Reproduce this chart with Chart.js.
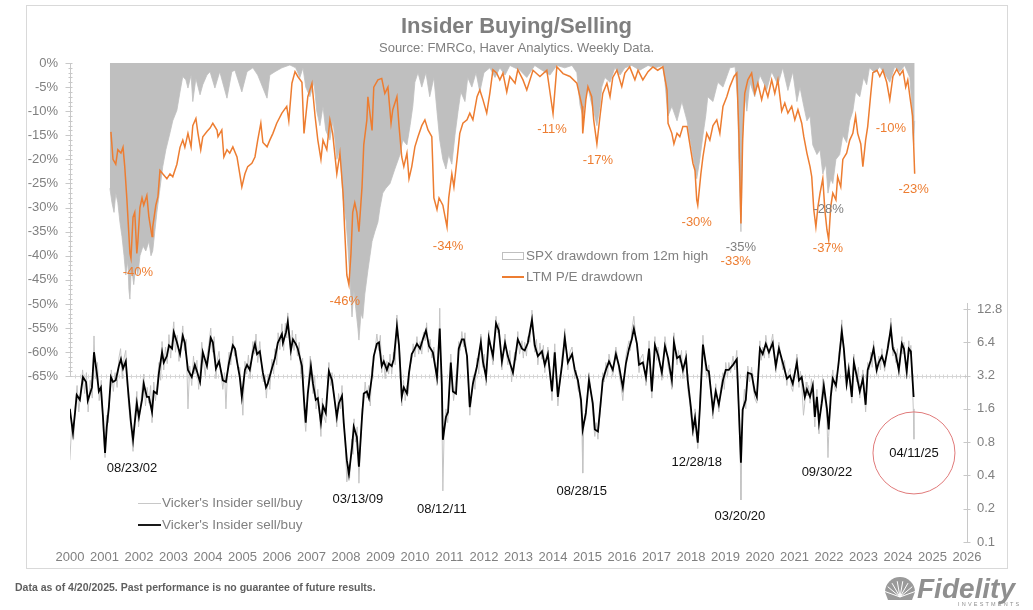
<!DOCTYPE html>
<html>
<head>
<meta charset="utf-8">
<title>Insider Buying/Selling</title>
<script src="https://cdn.jsdelivr.net/npm/chart.js@4.4.1/dist/chart.umd.min.js"></script>
<style>
  html, body { margin: 0; background: #fff; }
  #wrap { width: 1033px; height: 610px; }
</style>
</head>
<body>
<div id="wrap"><canvas id="insiderChart" width="1033" height="610"></canvas></div>
<script>
// x tick labels and axis ticks
const yearLabels = [2000, 2001, 2002, 2003, 2004, 2005, 2006, 2007, 2008, 2009, 2010, 2011, 2012, 2013,
  2014, 2015, 2016, 2017, 2018, 2019, 2020, 2021, 2022, 2023, 2024, 2025, 2026];
const leftTicks = [0, -5, -10, -15, -20, -25, -30, -35, -40, -45, -50, -55, -60, -65];
const rightTicks = [0.1, 0.2, 0.4, 0.8, 1.6, 3.2, 6.4, 12.8];

// SPX drawdown from 12m high (%)
const spxDates = [
  2002.00, 2002.06, 2002.12, 2002.17, 2002.23, 2002.29, 2002.35, 2002.41, 2002.46, 2002.52,
  2002.55, 2002.58, 2002.61, 2002.64, 2002.69, 2002.75, 2002.81, 2002.87, 2002.96, 2003.04,
  2003.13, 2003.19, 2003.24, 2003.30, 2003.36, 2003.45, 2003.53, 2003.62, 2003.74, 2003.82,
  2003.94, 2004.03, 2004.11, 2004.20, 2004.26, 2004.35, 2004.40, 2004.49, 2004.61, 2004.69,
  2004.81, 2004.90, 2005.04, 2005.18, 2005.39, 2005.53, 2005.62, 2005.82, 2005.97, 2006.14,
  2006.28, 2006.55, 2006.63, 2006.78, 2006.98, 2007.21, 2007.38, 2007.50, 2007.59, 2007.67,
  2007.79, 2007.91, 2007.99, 2008.08, 2008.17, 2008.25, 2008.37, 2008.46, 2008.57, 2008.66,
  2008.75, 2008.84, 2008.89, 2008.95, 2009.01, 2009.06, 2009.12, 2009.18, 2009.21, 2009.27,
  2009.32, 2009.38, 2009.47, 2009.53, 2009.59, 2009.67, 2009.76, 2009.82, 2009.90, 2009.99,
  2010.11, 2010.25, 2010.40, 2010.48, 2010.60, 2010.69, 2010.77, 2010.83, 2010.92, 2011.03,
  2011.15, 2011.26, 2011.38, 2011.47, 2011.55, 2011.64, 2011.73, 2011.81, 2011.90, 2011.99,
  2012.08, 2012.16, 2012.28, 2012.36, 2012.48, 2012.60, 2012.71, 2012.83, 2013.00, 2013.15,
  2013.29, 2013.44, 2013.58, 2013.87, 2014.07, 2014.30, 2014.51, 2014.74, 2014.94, 2015.17,
  2015.38, 2015.52, 2015.61, 2015.69, 2015.78, 2015.84, 2015.93, 2016.01, 2016.10, 2016.19,
  2016.24, 2016.33, 2016.48, 2016.62, 2016.77, 2016.91, 2017.11, 2017.34, 2017.58, 2017.78,
  2018.01, 2018.07, 2018.16, 2018.27, 2018.42, 2018.56, 2018.71, 2018.85, 2018.94, 2018.99,
  2019.08, 2019.17, 2019.25, 2019.31, 2019.46, 2019.60, 2019.75, 2019.95, 2020.10, 2020.18,
  2020.21, 2020.27, 2020.29, 2020.32, 2020.38, 2020.44, 2020.53, 2020.67, 2020.82, 2021.02,
  2021.16, 2021.34, 2021.48, 2021.63, 2021.77, 2021.89, 2021.98, 2022.09, 2022.18, 2022.27,
  2022.35, 2022.47, 2022.56, 2022.64, 2022.73, 2022.79, 2022.87, 2022.93, 2023.02, 2023.13,
  2023.22, 2023.33, 2023.42, 2023.51, 2023.59, 2023.71, 2023.82, 2023.91, 2023.99, 2024.15,
  2024.29, 2024.43, 2024.58, 2024.72, 2024.87, 2025.01, 2025.16, 2025.21, 2025.24, 2025.27,
  2025.30];
const spxDrawdown = [
  -26, -29, -31, -27, -29, -33, -36, -40, -44, -41,
  -47, -49, -44, -43, -46, -42, -44, -40, -38, -39,
  -37, -40, -39, -35, -31, -26, -21.5, -18, -14.5, -12,
  -9.8, -6, -2.8, -3.5, -5.2, -2.5, -8, -3.2, -6.6, -4.5,
  -2.5, -1.8, -5.2, -1.8, -7.3, -1.8, -1.5, -6, -1.8, -1,
  -2.5, -7.3, -2.5, -1.8, -1, -0.4, -1, -3, -1, -5,
  -7, -4, -10, -13, -9, -14, -16, -12, -20, -18,
  -28, -33, -38, -45, -52.7, -47, -51, -55, -57.5, -52,
  -53, -48, -43, -40, -37, -35, -33, -30, -27, -26,
  -25, -22, -19, -16, -17, -13, -9, -4, -2, -5,
  -2, -7, -3, -10, -16, -20, -22, -19, -21, -15,
  -10, -6, -8, -3, -5, -2, -6, -2, -1, -3,
  -1, -2.5, -0.5, -1.5, -3, -0.5, -1.5, -2.5, -0.5, -1,
  -0.5, -2, -8.7, -11, -7, -5, -8, -10, -13, -9,
  -5, -3, -4, -1, -2.5, -1, -0.5, -1.5, -0.5, -1,
  -0.5, -4, -11, -9, -12, -8, -12, -18, -22, -24,
  -20, -15, -11, -7, -8, -4, -5, -1, -0.8, -8,
  -20, -35, -28, -15, -6, -10, -4, -7, -2.5, -5.5,
  -1.8, -4.5, -1, -5.7, -1.8, -8, -5, -9, -12, -11,
  -17, -19, -18, -23, -21, -27, -24, -25, -20, -19,
  -15, -16.5, -12, -10, -6, -7, -3, -4.5, -1, -2,
  -0.8, -2.2, -4, -0.8, -1.8, -0.5, -3, -8, -14, -17,
  -12];

// LTM P/E drawdown (%), orange line
const peDates = [
  2002.03, 2002.09, 2002.17, 2002.23, 2002.32, 2002.38, 2002.43, 2002.49, 2002.58, 2002.61,
  2002.67, 2002.72, 2002.78, 2002.81, 2002.87, 2002.93, 2002.98, 2003.07, 2003.13, 2003.22,
  2003.24, 2003.33, 2003.39, 2003.45, 2003.53, 2003.65, 2003.74, 2003.82, 2003.94, 2004.03,
  2004.11, 2004.17, 2004.26, 2004.35, 2004.40, 2004.49, 2004.55, 2004.63, 2004.69, 2004.81,
  2004.90, 2004.98, 2005.10, 2005.13, 2005.24, 2005.30, 2005.39, 2005.47, 2005.56, 2005.68,
  2005.76, 2005.82, 2005.91, 2005.99, 2006.11, 2006.20, 2006.28, 2006.37, 2006.43, 2006.55,
  2006.63, 2006.72, 2006.83, 2006.98, 2007.12, 2007.18, 2007.27, 2007.36, 2007.44, 2007.56,
  2007.62, 2007.73, 2007.85, 2007.94, 2008.02, 2008.11, 2008.17, 2008.28, 2008.37, 2008.45,
  2008.57, 2008.66, 2008.75, 2008.80, 2008.86, 2008.92, 2008.98, 2009.03, 2009.09, 2009.15,
  2009.21, 2009.30, 2009.35, 2009.44, 2009.47, 2009.59, 2009.64, 2009.76, 2009.87, 2009.96,
  2010.05, 2010.14, 2010.19, 2010.31, 2010.37, 2010.45, 2010.51, 2010.60, 2010.66, 2010.74,
  2010.83, 2010.92, 2011.03, 2011.12, 2011.21, 2011.32, 2011.38, 2011.47, 2011.53, 2011.64,
  2011.76, 2011.81, 2011.90, 2011.96, 2012.05, 2012.13, 2012.22, 2012.34, 2012.42, 2012.51,
  2012.63, 2012.71, 2012.80, 2012.91, 2013.00, 2013.09, 2013.20, 2013.29, 2013.38, 2013.49,
  2013.58, 2013.73, 2013.81, 2013.96, 2014.07, 2014.25, 2014.45, 2014.65, 2014.83, 2014.94,
  2015.12, 2015.32, 2015.52, 2015.67, 2015.69, 2015.78, 2015.84, 2015.95, 2016.01, 2016.10,
  2016.19, 2016.27, 2016.39, 2016.48, 2016.56, 2016.68, 2016.82, 2016.91, 2017.05, 2017.20,
  2017.29, 2017.43, 2017.58, 2017.72, 2017.86, 2018.01, 2018.13, 2018.16, 2018.27, 2018.33,
  2018.42, 2018.50, 2018.59, 2018.71, 2018.79, 2018.88, 2018.94, 2018.99, 2019.02, 2019.11,
  2019.17, 2019.28, 2019.37, 2019.46, 2019.57, 2019.66, 2019.75, 2019.86, 2019.95, 2020.07,
  2020.15, 2020.21, 2020.27, 2020.32, 2020.38, 2020.47, 2020.58, 2020.67, 2020.76, 2020.87,
  2020.96, 2021.05, 2021.16, 2021.25, 2021.34, 2021.45, 2021.54, 2021.63, 2021.74, 2021.83,
  2021.92, 2022.03, 2022.09, 2022.18, 2022.27, 2022.32, 2022.38, 2022.44, 2022.50, 2022.56,
  2022.64, 2022.70, 2022.76, 2022.81, 2022.87, 2022.93, 2023.02, 2023.07, 2023.16, 2023.22,
  2023.33, 2023.42, 2023.51, 2023.59, 2023.65, 2023.74, 2023.80, 2023.88, 2023.94, 2024.03,
  2024.09, 2024.21, 2024.29, 2024.38, 2024.49, 2024.58, 2024.67, 2024.78, 2024.87, 2024.96,
  2025.04, 2025.10, 2025.16, 2025.24, 2025.27, 2025.30];
const peDrawdown = [
  -14.3, -20, -21, -18, -18.7, -17.5, -21.5, -28, -39.5, -40.5,
  -32, -31, -39.5, -37, -30, -28, -29.5, -27.5, -32, -36,
  -34, -29.5, -27.8, -22.3, -23, -24, -23, -23.6, -21, -17.5,
  -16, -17.5, -14.6, -17.4, -13, -11.5, -14.6, -18, -15.3, -14.2,
  -13.5, -12.5, -13.9, -15.3, -13.9, -19.5, -18, -18.7, -17.4, -19.5,
  -23, -25.7, -23, -21.5, -20.8, -19.5, -16, -12.5, -16.5, -17.4,
  -16, -14.6, -12.5, -10.4, -9, -12, -4.2, -1.8, -2.8, -4,
  -14.6, -7, -4.2, -11, -16, -20, -16, -18, -11.8, -14.6,
  -23, -18.7, -27, -35, -44, -46, -39.5, -31, -29, -31,
  -35, -25.7, -17, -11.8, -7, -14, -5, -3.5, -3.2, -6.3,
  -5, -12.5, -9.7, -7, -13, -19.5, -21.5, -18.7, -24, -21.5,
  -17.4, -15.3, -13, -11.8, -13.9, -15.3, -28, -30.4, -28, -29.5,
  -34, -28, -23, -25.7, -20, -14.6, -12.5, -11.8, -10.4, -11.8,
  -7, -5.6, -7.6, -10.4, -6.3, -1.4, -2.1, -3.5, -2.1, -6,
  -2.8, -4.2, -1.4, -3.5, -5.6, -1.5, -2.8, -1.5, -10.5, -0.8,
  -2.2, -2.8, -4.2, -9, -14.6, -7.6, -4.9, -7, -12, -16.8,
  -11, -6.3, -4.2, -7, -3, -1.5, -4.9, -2.1, -0.8, -3.5,
  -1.5, -3.5, -1.8, -0.8, -1.5, -0.8, -5.6, -12.5, -14.6, -16.8,
  -14.6, -15.3, -13.2, -13.2, -16.8, -20.8, -22.3, -28.4, -29.5, -23,
  -19.5, -14.6, -16, -13, -11.8, -14.6, -9, -7, -4.9, -2.8,
  -2.1, -14.6, -33.3, -16, -6.3, -3.5, -2.1, -6.3, -4.2, -7.6,
  -4.9, -7, -3.5, -6.3, -3.5, -10, -8.3, -10.4, -9, -11.8,
  -9.7, -12.5, -15.3, -18.7, -21.5, -23.6, -30.5, -34, -29.8, -27,
  -24, -30.5, -34.6, -36.7, -29.8, -27, -28.4, -23.6, -25.7, -20,
  -18.7, -16, -14.6, -11, -14.6, -16.8, -21.5, -16, -13.2, -6.3,
  -2, -1.5, -2.8, -1.5, -4, -7.6, -2.8, -1.3, -2.5, -1.5,
  -5, -3.5, -6.9, -11, -16.8, -23];

// Vicker's insider sell/buy, weekly (thin grey line, log scale)
const vickersRawDates = [
  2000.84, 2000.90, 2000.95, 2001.00, 2001.05, 2001.10, 2001.16, 2001.21, 2001.27, 2001.32,
  2001.37, 2001.43, 2001.49, 2001.54, 2001.58, 2001.64, 2001.69, 2001.75, 2001.80, 2001.86,
  2001.90, 2001.95, 2002.00, 2002.04, 2002.10, 2002.15, 2002.21, 2002.26, 2002.31, 2002.36,
  2002.41, 2002.46, 2002.52, 2002.57, 2002.62, 2002.67, 2002.73, 2002.78, 2002.83, 2002.88,
  2002.93, 2002.98, 2003.03, 2003.08, 2003.13, 2003.18, 2003.22, 2003.27, 2003.32, 2003.37,
  2003.42, 2003.47, 2003.51, 2003.56, 2003.61, 2003.66, 2003.71, 2003.76, 2003.80, 2003.85,
  2003.90, 2003.95, 2004.00, 2004.05, 2004.11, 2004.16, 2004.21, 2004.26, 2004.31, 2004.37,
  2004.42, 2004.46, 2004.52, 2004.57, 2004.61, 2004.66, 2004.71, 2004.76, 2004.81, 2004.86,
  2004.92, 2004.97, 2005.02, 2005.07, 2005.11, 2005.16, 2005.21, 2005.27, 2005.32, 2005.36,
  2005.41, 2005.45, 2005.50, 2005.56, 2005.61, 2005.66, 2005.71, 2005.76, 2005.80, 2005.85,
  2005.91, 2005.96, 2006.01, 2006.06, 2006.10, 2006.14, 2006.19, 2006.23, 2006.28, 2006.34,
  2006.39, 2006.44, 2006.49, 2006.53, 2006.58, 2006.63, 2006.69, 2006.74, 2006.78, 2006.83,
  2006.87, 2006.92, 2006.98, 2007.03, 2007.08, 2007.12, 2007.15, 2007.20, 2007.24, 2007.28,
  2007.33, 2007.38, 2007.43, 2007.48, 2007.53, 2007.58, 2007.62, 2007.67, 2007.71, 2007.75,
  2007.80, 2007.84, 2007.88, 2007.93, 2007.97, 2008.02, 2008.06, 2008.11, 2008.15, 2008.19,
  2008.25, 2008.30, 2008.34, 2008.39, 2008.43, 2008.47, 2008.52, 2008.57, 2008.62, 2008.67,
  2008.72, 2008.76, 2008.81, 2008.86, 2008.90, 2008.94, 2009.00, 2009.04, 2009.07, 2009.11,
  2009.16, 2009.21, 2009.25, 2009.30, 2009.35, 2009.39, 2009.44, 2009.49, 2009.54, 2009.58,
  2009.63, 2009.68, 2009.73, 2009.78, 2009.83, 2009.87, 2009.92, 2009.97, 2010.02, 2010.07,
  2010.11, 2010.16, 2010.21, 2010.26, 2010.31, 2010.36, 2010.41, 2010.45, 2010.50, 2010.55,
  2010.60, 2010.64, 2010.69, 2010.74, 2010.78, 2010.83, 2010.89, 2010.94, 2010.98, 2011.03,
  2011.08, 2011.13, 2011.17, 2011.22, 2011.27, 2011.32, 2011.38, 2011.43, 2011.47, 2011.52,
  2011.55, 2011.58, 2011.61, 2011.64, 2011.68, 2011.73, 2011.78, 2011.82, 2011.87, 2011.91,
  2011.95, 2012.00, 2012.05, 2012.10, 2012.14, 2012.19, 2012.24, 2012.28, 2012.34, 2012.38,
  2012.42, 2012.47, 2012.52, 2012.57, 2012.63, 2012.68, 2012.74, 2012.79, 2012.84, 2012.89,
  2012.93, 2012.97, 2013.03, 2013.09, 2013.13, 2013.18, 2013.22, 2013.26, 2013.31, 2013.35,
  2013.40, 2013.44, 2013.48, 2013.52, 2013.58, 2013.63, 2013.67, 2013.72, 2013.76, 2013.81,
  2013.86, 2013.93, 2013.97, 2014.01, 2014.06, 2014.10, 2014.16, 2014.22, 2014.26, 2014.30,
  2014.35, 2014.39, 2014.45, 2014.51, 2014.55, 2014.59, 2014.64, 2014.68, 2014.73, 2014.80,
  2014.84, 2014.88, 2014.92, 2014.97, 2015.03, 2015.09, 2015.13, 2015.17, 2015.22, 2015.26,
  2015.32, 2015.38, 2015.42, 2015.46, 2015.50, 2015.55, 2015.60, 2015.64, 2015.67, 2015.69,
  2015.72, 2015.78, 2015.82, 2015.87, 2015.92, 2015.98, 2016.01, 2016.04, 2016.08, 2016.13,
  2016.16, 2016.19, 2016.23, 2016.27, 2016.31, 2016.36, 2016.41, 2016.45, 2016.50, 2016.56,
  2016.60, 2016.65, 2016.70, 2016.74, 2016.80, 2016.85, 2016.90, 2016.94, 2016.99, 2017.03,
  2017.07, 2017.11, 2017.17, 2017.22, 2017.26, 2017.32, 2017.37, 2017.43, 2017.47, 2017.52,
  2017.57, 2017.61, 2017.65, 2017.69, 2017.74, 2017.78, 2017.83, 2017.87, 2017.92, 2017.98,
  2018.03, 2018.07, 2018.12, 2018.16, 2018.22, 2018.27, 2018.31, 2018.33, 2018.38, 2018.42,
  2018.46, 2018.50, 2018.55, 2018.59, 2018.64, 2018.68, 2018.73, 2018.78, 2018.82, 2018.88,
  2018.92, 2018.94, 2018.98, 2019.02, 2019.05, 2019.08, 2019.13, 2019.17, 2019.22, 2019.28,
  2019.34, 2019.39, 2019.46, 2019.50, 2019.54, 2019.59, 2019.63, 2019.68, 2019.75, 2019.79,
  2019.83, 2019.88, 2019.92, 2019.97, 2020.04, 2020.09, 2020.15, 2020.18, 2020.21, 2020.25,
  2020.27, 2020.30, 2020.32, 2020.37, 2020.41, 2020.44, 2020.47, 2020.52, 2020.58, 2020.62,
  2020.67, 2020.73, 2020.77, 2020.82, 2020.86, 2020.90, 2020.95, 2020.99, 2021.04, 2021.08,
  2021.13, 2021.19, 2021.23, 2021.28, 2021.33, 2021.37, 2021.42, 2021.48, 2021.53, 2021.60,
  2021.64, 2021.69, 2021.73, 2021.77, 2021.82, 2021.89, 2021.92, 2021.95, 2021.99, 2022.03,
  2022.08, 2022.12, 2022.16, 2022.18, 2022.23, 2022.27, 2022.31, 2022.35, 2022.41, 2022.44,
  2022.47, 2022.53, 2022.57, 2022.61, 2022.64, 2022.67, 2022.72, 2022.76, 2022.79, 2022.81,
  2022.85, 2022.87, 2022.93, 2022.97, 2023.02, 2023.06, 2023.10, 2023.15, 2023.19, 2023.22,
  2023.25, 2023.30, 2023.33, 2023.39, 2023.43, 2023.48, 2023.54, 2023.58, 2023.62, 2023.67,
  2023.71, 2023.76, 2023.80, 2023.84, 2023.88, 2023.91, 2023.94, 2023.99, 2024.03, 2024.07,
  2024.11, 2024.15, 2024.20, 2024.26, 2024.31, 2024.35, 2024.39, 2024.43, 2024.48, 2024.52,
  2024.58, 2024.61, 2024.64, 2024.67, 2024.71, 2024.75, 2024.80, 2024.84, 2024.88, 2024.93,
  2024.96, 2024.99, 2025.03, 2025.07, 2025.10, 2025.13, 2025.16, 2025.19, 2025.22, 2025.24,
  2025.26, 2025.28];
const vickersRaw = [
  0.55, 1.2, 0.85, 1.8, 2.6, 1.5, 2.4, 3.6, 2.2, 3.4,
  1.5, 2.9, 2.0, 7.3, 3.0, 4.2, 1.9, 2.9, 1.1, 0.58,
  1.4, 1.2, 2.1, 3.6, 2.3, 3.4, 2.5, 4.6, 5.6, 3.0,
  4.6, 5.4, 2.1, 1.4, 1.0, 0.66, 1.5, 2.3, 1.1, 1.6,
  2.4, 3.3, 1.7, 2.5, 1.8, 2.6, 1.2, 2.8, 1.9, 2.7,
  4.2, 2.9, 6.5, 3.6, 5.8, 4.1, 7.5, 4.6, 6.8, 9.8,
  5.2, 7.4, 4.3, 5.8, 9.0, 5.4, 6.8, 1.6, 3.9, 2.6,
  4.8, 3.3, 4.4, 2.4, 3.3, 6.4, 4.4, 3.2, 4.8, 6.0,
  8.6, 5.2, 7.2, 3.0, 4.4, 5.3, 3.5, 2.4, 3.4, 1.6,
  3.8, 5.2, 4.0, 7.3, 4.8, 5.4, 3.6, 3.8, 2.6, 1.4,
  4.3, 3.3, 4.9, 3.0, 4.4, 6.5, 5.0, 7.6, 4.2, 6.5,
  4.0, 2.8, 3.2, 2.0, 3.3, 2.4, 4.5, 3.3, 5.6, 4.0,
  7.8, 5.5, 9.4, 5.4, 9.5, 7.0, 11.8, 6.8, 4.4, 8.2,
  5.4, 7.6, 4.8, 6.4, 3.3, 4.6, 1.5, 1.0, 1.6, 2.8,
  4.8, 3.2, 2.2, 3.2, 1.6, 2.4, 1.5, 0.9, 2.0, 1.4,
  1.2, 2.4, 4.2, 2.6, 3.4, 2.5, 1.7, 1.1, 2.2, 1.6,
  2.6, 1.4, 0.8, 0.35, 0.5, 0.38, 0.85, 0.62, 1.3, 0.8,
  1.1, 0.34, 0.7, 1.6, 1.8, 2.8, 2.0, 2.6, 1.7, 3.8,
  4.2, 5.6, 7.6, 5.4, 7.4, 3.4, 4.9, 3.0, 4.3, 3.3,
  5.0, 3.3, 5.2, 4.0, 11.3, 6.8, 4.4, 1.7, 2.9, 1.9,
  2.6, 2.2, 3.9, 4.4, 6.2, 4.7, 7.2, 5.0, 6.5, 5.0,
  7.9, 6.6, 9.6, 5.2, 6.8, 4.6, 5.8, 3.6, 2.6, 4.4,
  13.0, 4.0, 1.6, 0.29, 1.1, 1.6, 1.2, 2.0, 5.0, 2.9,
  1.9, 2.6, 3.8, 6.5, 5.4, 8.0, 5.8, 7.8, 4.2, 2.6,
  1.4, 2.0, 3.2, 2.4, 4.6, 3.3, 7.6, 3.8, 5.0, 2.6,
  4.4, 8.2, 5.6, 4.0, 6.2, 11.0, 7.8, 9.6, 5.6, 3.6,
  5.2, 7.6, 5.2, 4.0, 5.4, 2.8, 3.8, 5.2, 4.4, 8.0,
  5.0, 6.6, 4.6, 6.4, 4.8, 7.2, 6.4, 12.5, 7.2, 5.2,
  6.8, 4.0, 6.3, 4.5, 6.0, 3.4, 4.4, 5.8, 3.6, 1.9,
  3.6, 6.2, 3.3, 1.7, 2.8, 4.8, 5.8, 8.5, 5.2, 3.6,
  5.2, 5.8, 4.4, 3.0, 3.6, 2.4, 2.2, 1.6, 0.9, 0.42,
  1.2, 1.3, 2.0, 3.4, 2.4, 1.5, 1.1, 0.9, 1.2, 0.85,
  1.2, 1.4, 2.0, 3.4, 2.8, 4.2, 3.2, 5.0, 4.0, 3.2,
  4.4, 5.8, 4.6, 3.4, 2.6, 1.9, 3.0, 4.8, 5.8, 6.6,
  5.4, 8.2, 11.0, 7.4, 5.6, 3.4, 4.6, 5.0, 4.0, 2.6,
  4.2, 6.6, 4.0, 2.0, 4.2, 7.2, 4.4, 5.8, 4.2, 2.9,
  4.2, 7.2, 5.4, 3.9, 3.2, 2.4, 4.4, 7.8, 5.0, 4.0,
  5.4, 4.2, 5.4, 3.0, 4.0, 5.4, 2.4, 1.9, 1.4, 0.9,
  1.1, 1.6, 1.1, 0.7, 1.0, 1.9, 3.6, 7.4, 4.2, 3.1,
  4.0, 2.6, 1.3, 1.9, 2.7, 2.0, 1.5, 2.4, 3.4, 2.4,
  4.2, 3.1, 4.2, 3.4, 4.8, 3.6, 5.4, 3.0, 1.3, 0.6,
  0.24, 0.9, 1.4, 2.4, 1.6, 2.6, 3.9, 2.8, 3.8, 2.6,
  2.0, 1.8, 3.4, 6.6, 4.4, 5.8, 4.6, 7.4, 5.6, 4.6,
  6.0, 7.6, 5.0, 3.4, 4.6, 6.4, 4.8, 3.6, 4.4, 2.6,
  3.4, 3.7, 2.5, 2.3, 3.2, 5.0, 3.4, 2.5, 3.5, 2.7,
  1.4, 1.8, 2.8, 2.1, 2.6, 1.8, 3.0, 2.3, 1.1, 1.8,
  2.4, 0.95, 1.6, 2.1, 3.0, 2.2, 1.8, 1.3, 0.58, 0.9,
  1.6, 2.4, 3.6, 2.6, 2.3, 3.0, 5.0, 6.4, 10.2, 7.0,
  4.8, 3.2, 2.4, 4.2, 2.8, 1.8, 5.0, 3.6, 2.8, 3.8,
  2.0, 2.6, 3.6, 2.4, 1.5, 2.2, 4.2, 3.6, 5.2, 3.8,
  6.6, 4.8, 3.2, 4.8, 3.6, 5.6, 4.4, 3.5, 4.6, 6.4,
  7.4, 10.6, 7.0, 4.8, 5.8, 4.2, 5.6, 3.1, 4.4, 7.2,
  5.0, 6.4, 4.0, 3.0, 4.8, 6.6, 5.0, 6.0, 3.4, 2.4,
  1.6, 0.85];

// Vicker's insider sell/buy, smoothed (black line, log scale)
const vickersDates = [
  2000.84, 2000.93, 2000.99, 2001.04, 2001.13, 2001.22, 2001.31, 2001.36, 2001.48, 2001.54,
  2001.62, 2001.68, 2001.74, 2001.80, 2001.86, 2001.91, 2001.97, 2002.03, 2002.09, 2002.17,
  2002.26, 2002.32, 2002.38, 2002.46, 2002.52, 2002.61, 2002.67, 2002.72, 2002.78, 2002.84,
  2002.93, 2002.98, 2003.07, 2003.13, 2003.22, 2003.27, 2003.36, 2003.42, 2003.51, 2003.56,
  2003.65, 2003.71, 2003.80, 2003.85, 2003.94, 2004.03, 2004.11, 2004.17, 2004.26, 2004.37,
  2004.46, 2004.52, 2004.61, 2004.69, 2004.81, 2004.92, 2004.98, 2005.07, 2005.16, 2005.27,
  2005.36, 2005.45, 2005.56, 2005.62, 2005.68, 2005.76, 2005.82, 2005.91, 2005.97, 2006.05,
  2006.14, 2006.20, 2006.26, 2006.34, 2006.43, 2006.52, 2006.57, 2006.69, 2006.78, 2006.86,
  2006.98, 2007.01, 2007.10, 2007.15, 2007.24, 2007.30, 2007.38, 2007.44, 2007.56, 2007.62,
  2007.67, 2007.73, 2007.82, 2007.88, 2007.96, 2008.02, 2008.11, 2008.17, 2008.25, 2008.34,
  2008.43, 2008.49, 2008.57, 2008.63, 2008.72, 2008.77, 2008.86, 2008.92, 2009.01, 2009.06,
  2009.15, 2009.21, 2009.30, 2009.35, 2009.44, 2009.50, 2009.59, 2009.64, 2009.73, 2009.79,
  2009.87, 2009.93, 2010.02, 2010.08, 2010.16, 2010.22, 2010.31, 2010.37, 2010.45, 2010.51,
  2010.60, 2010.66, 2010.74, 2010.80, 2010.89, 2010.98, 2011.06, 2011.15, 2011.24, 2011.35,
  2011.47, 2011.55, 2011.61, 2011.64, 2011.73, 2011.79, 2011.87, 2011.93, 2012.02, 2012.10,
  2012.19, 2012.25, 2012.34, 2012.42, 2012.51, 2012.63, 2012.74, 2012.80, 2012.89, 2012.97,
  2013.09, 2013.18, 2013.26, 2013.35, 2013.44, 2013.52, 2013.67, 2013.81, 2013.93, 2014.01,
  2014.10, 2014.22, 2014.30, 2014.39, 2014.51, 2014.59, 2014.68, 2014.80, 2014.88, 2014.97,
  2015.09, 2015.17, 2015.26, 2015.38, 2015.46, 2015.55, 2015.64, 2015.69, 2015.78, 2015.87,
  2015.98, 2016.04, 2016.13, 2016.19, 2016.27, 2016.36, 2016.45, 2016.56, 2016.65, 2016.74,
  2016.85, 2016.94, 2017.03, 2017.11, 2017.17, 2017.26, 2017.32, 2017.43, 2017.52, 2017.61,
  2017.69, 2017.78, 2017.87, 2017.98, 2018.07, 2018.16, 2018.27, 2018.33, 2018.42, 2018.50,
  2018.59, 2018.68, 2018.73, 2018.82, 2018.88, 2018.94, 2019.02, 2019.08, 2019.17, 2019.28,
  2019.34, 2019.46, 2019.54, 2019.63, 2019.75, 2019.83, 2019.92, 2020.04, 2020.15, 2020.21,
  2020.27, 2020.32, 2020.41, 2020.47, 2020.58, 2020.67, 2020.73, 2020.82, 2020.90, 2020.99,
  2021.08, 2021.19, 2021.28, 2021.37, 2021.48, 2021.60, 2021.69, 2021.77, 2021.89, 2021.95,
  2022.03, 2022.12, 2022.18, 2022.27, 2022.35, 2022.41, 2022.47, 2022.53, 2022.61, 2022.67,
  2022.76, 2022.81, 2022.87, 2022.93, 2023.02, 2023.10, 2023.19, 2023.25, 2023.33, 2023.39,
  2023.48, 2023.54, 2023.62, 2023.71, 2023.80, 2023.88, 2023.94, 2024.03, 2024.11, 2024.20,
  2024.26, 2024.35, 2024.43, 2024.52, 2024.61, 2024.67, 2024.75, 2024.84, 2024.93, 2024.99,
  2025.07, 2025.13, 2025.19, 2025.24, 2025.27];
const vickersSmooth = [
  1.6, 0.97, 1.47, 2.14, 1.93, 3.1, 2.8, 1.9, 2.5, 5.2,
  3.4, 2.3, 2.5, 1.35, 0.64, 1.1, 1.66, 3.1, 2.8, 2.9,
  3.9, 4.5, 3.7, 4.3, 2.5, 1.2, 0.84, 1.2, 1.8, 1.35,
  1.93, 2.7, 2.05, 2.05, 1.5, 2.3, 2.2, 3.4, 5.2, 4.2,
  4.8, 6.0, 5.6, 7.9, 6.4, 5.0, 7.3, 6.3, 3.6, 3.1,
  4.0, 3.5, 2.8, 5.2, 3.9, 7.0, 6.4, 3.7, 4.3, 2.9,
  2.8, 4.2, 6.0, 5.6, 4.3, 3.1, 2.05, 3.6, 4.0, 3.6,
  5.2, 6.2, 5.0, 5.3, 3.4, 2.5, 2.7, 3.7, 4.6, 6.3,
  7.6, 6.3, 7.9, 9.8, 5.4, 6.8, 6.2, 5.6, 3.9, 1.93,
  1.2, 2.2, 3.9, 2.7, 1.93, 2.0, 1.2, 1.7, 1.47, 3.5,
  2.9, 2.1, 1.35, 1.8, 2.1, 1.2, 0.55, 0.41, 0.72, 1.1,
  0.89, 0.48, 1.35, 2.2, 2.3, 2.0, 3.2, 4.8, 6.2, 6.4,
  3.9, 4.3, 3.6, 4.1, 3.9, 4.5, 8.9, 6.0, 2.05, 2.5,
  2.2, 3.4, 5.0, 5.4, 6.2, 5.6, 6.8, 8.2, 5.9, 5.2,
  3.1, 8.5, 2.7, 0.84, 1.35, 1.5, 4.2, 2.3, 2.2, 5.6,
  6.8, 6.8, 4.8, 1.66, 2.7, 3.9, 6.4, 4.3, 3.1, 7.0,
  4.8, 9.5, 8.2, 4.3, 6.3, 4.8, 3.4, 6.8, 5.6, 5.4,
  6.3, 10.2, 6.0, 4.8, 5.3, 4.0, 5.0, 2.3, 5.2, 2.05,
  4.0, 7.0, 4.2, 5.0, 3.6, 2.9, 1.93, 1.04, 1.47, 2.9,
  1.8, 1.04, 1.0, 1.57, 2.9, 3.6, 4.3, 3.6, 5.0, 3.9,
  2.5, 4.1, 5.6, 6.8, 8.5, 6.2, 4.0, 4.2, 3.1, 5.6,
  2.3, 6.0, 4.9, 3.4, 5.9, 4.6, 2.9, 6.4, 4.6, 4.8,
  3.6, 4.6, 2.9, 1.66, 1.04, 1.33, 0.79, 1.6, 6.1, 3.6,
  3.5, 1.57, 2.3, 1.75, 2.9, 3.6, 3.6, 4.0, 4.5, 1.57,
  0.52, 1.57, 1.93, 3.4, 3.3, 2.3, 2.05, 5.6, 5.0, 6.2,
  5.2, 6.3, 3.9, 5.6, 4.2, 3.0, 3.2, 2.7, 4.2, 2.9,
  3.1, 2.05, 2.4, 2.05, 2.6, 1.35, 2.05, 1.2, 1.8, 2.6,
  1.6, 1.04, 2.05, 3.0, 2.6, 4.2, 8.0, 5.6, 2.7, 3.6,
  2.05, 4.2, 3.2, 2.3, 3.0, 1.74, 3.6, 4.4, 5.6, 3.6,
  4.2, 4.8, 4.0, 5.6, 8.5, 5.6, 5.0, 3.6, 6.2, 5.6,
  3.5, 5.6, 5.3, 2.9, 2.05];

// callouts on the upper panel (value on the left axis)
const peakText = ['-40%', '-46%', '-34%', '-11%', '-17%', '-30%', '-35%', '-33%', '-28%', '-37%', '-10%', '-23%'];
const peakDates = [2002.81, 2008.80, 2011.79, 2014.80, 2016.13, 2018.99, 2020.27, 2020.12, 2022.81, 2022.79, 2024.61, 2025.27];
const peakValues = [-43.4, -49.4, -38.0, -13.7, -20.3, -33.0, -38.2, -41.1, -30.3, -38.4, -13.5, -26.3];
const peakIsSpx = [false, false, false, false, false, false, true, false, true, false, false, false];

// dated callouts on the lower panel (value on the right axis)
const lowText = ['08/23/02', '03/13/09', '08/12/11', '08/28/15', '12/28/18', '03/20/20', '09/30/22', '04/11/25'];
const lowDates = [2002.64, 2009.18, 2011.61, 2015.66, 2018.99, 2020.24, 2022.76, 2025.28];
const lowValues = [0.467, 0.245, 0.199, 0.289, 0.519, 0.172, 0.430, 0.639];

const FONT = '"Liberation Sans", Arial, Helvetica, sans-serif';
const GREY_TEXT = '#808080';
const ORANGE = '#ED7D31';
const AREA_GREY = '#BFBFBF';

Chart.defaults.font.family = FONT;

function toPoints(xs, ys) {
  const n = Math.min(xs.length, ys.length);
  const out = [];
  for (let i = 0; i < n; i++) out.push({ x: xs[i], y: ys[i] });
  return out;
}

const decorations = {
  id: 'decorations',
  beforeDatasetsDraw(chart) {
    const { ctx, chartArea: a, scales } = chart;
    const yb = Math.round(scales.y.getPixelForValue(-65)) + 0.5;
    ctx.save();
    ctx.strokeStyle = '#d6d6d6';
    ctx.lineWidth = 1;
    ctx.beginPath();
    ctx.moveTo(a.left, yb);
    ctx.lineTo(a.right, yb);
    for (let t = 2001; t < 2026.8; t += 0.125) {
      const px = Math.round(scales.x.getPixelForValue(t)) + 0.5;
      ctx.moveTo(px, yb - 2);
      ctx.lineTo(px, yb + 2);
    }
    ctx.stroke();
    ctx.restore();
  },
  afterDraw(chart) {
    const { ctx, chartArea: a, scales } = chart;
    const { x, y, y2 } = scales;
    ctx.save();

    // left axis (upper panel only) with minor ticks
    const lx = Math.round(a.left) + 0.5;
    ctx.strokeStyle = '#c8c8c8';
    ctx.lineWidth = 1;
    ctx.beginPath();
    ctx.moveTo(lx, y.getPixelForValue(0));
    ctx.lineTo(lx, y.getPixelForValue(-65));
    for (let v = 0; v >= -65; v--) {
      const py = Math.round(y.getPixelForValue(v)) + 0.5;
      const major = v % 5 === 0;
      ctx.moveTo(lx - (major ? 5 : 2), py);
      ctx.lineTo(lx + 2, py);
    }
    ctx.stroke();

    // right axis (lower panel only)
    const rx = Math.round(a.right) + 0.5;
    ctx.beginPath();
    ctx.moveTo(rx, y2.getPixelForValue(12.8) - 6);
    ctx.lineTo(rx, y2.getPixelForValue(0.1));
    rightTicks.forEach(v => {
      const py = Math.round(y2.getPixelForValue(v)) + 0.5;
      ctx.moveTo(rx - 4, py);
      ctx.lineTo(rx + 3, py);
    });
    ctx.stroke();

    // percentage callouts
    ctx.font = '13px ' + FONT;
    ctx.textAlign = 'center';
    ctx.textBaseline = 'middle';
    peakText.forEach((t, i) => {
      ctx.fillStyle = peakIsSpx[i] ? '#7f7f7f' : ORANGE;
      ctx.fillText(t, x.getPixelForValue(peakDates[i]), y.getPixelForValue(peakValues[i]));
    });

    // date callouts
    ctx.fillStyle = '#111';
    lowText.forEach((t, i) => {
      ctx.fillText(t, x.getPixelForValue(lowDates[i]), y2.getPixelForValue(lowValues[i]));
    });

    // circle round the latest reading
    const last = lowText.length - 1;
    ctx.strokeStyle = '#e07a7a';
    ctx.lineWidth = 1;
    ctx.beginPath();
    ctx.arc(x.getPixelForValue(lowDates[last]), y2.getPixelForValue(lowValues[last]), 41, 0, Math.PI * 2);
    ctx.stroke();

    // legends
    ctx.font = '13.5px ' + FONT;
    ctx.textAlign = 'left';
    ctx.fillStyle = GREY_TEXT;
    ctx.strokeStyle = AREA_GREY;
    ctx.strokeRect(502.5, 252.5, 21, 7);
    ctx.fillText('SPX drawdown from 12m high', 526, 256);
    ctx.strokeStyle = ORANGE;
    ctx.lineWidth = 2;
    ctx.beginPath(); ctx.moveTo(502, 277); ctx.lineTo(524, 277); ctx.stroke();
    ctx.fillText('LTM P/E drawdown', 526, 277);

    ctx.strokeStyle = '#c8c8c8';
    ctx.lineWidth = 1;
    ctx.beginPath(); ctx.moveTo(138, 503.5); ctx.lineTo(161, 503.5); ctx.stroke();
    ctx.fillText("Vicker's Insider sell/buy", 162, 503);
    ctx.strokeStyle = '#000';
    ctx.lineWidth = 1.8;
    ctx.beginPath(); ctx.moveTo(138, 525); ctx.lineTo(161, 525); ctx.stroke();
    ctx.fillText("Vicker's Insider sell/buy", 162, 525);

    // frame
    ctx.strokeStyle = '#d9d9d9';
    ctx.lineWidth = 1;
    ctx.strokeRect(26.5, 5.5, 981, 563);

    // footer
    ctx.font = 'bold 10.5px ' + FONT;
    ctx.fillStyle = '#5f5f5f';
    ctx.fillText('Data as of 4/20/2025. Past performance is no guarantee of future results.', 15, 588);

    // logo
    ctx.fillStyle = '#9a9a9a';
    ctx.beginPath();
    ctx.arc(900, 592, 15, Math.PI, Math.PI * 2);
    ctx.lineTo(912, 600);
    ctx.lineTo(888, 600);
    ctx.closePath();
    ctx.fill();
    ctx.strokeStyle = '#fff';
    ctx.lineWidth = 1;
    ctx.beginPath();
    for (let k = 1; k < 9; k++) {
      const ang = Math.PI + k * Math.PI / 9;
      ctx.moveTo(900, 597);
      ctx.lineTo(900 + 16 * Math.cos(ang), 597 + 16 * Math.sin(ang));
    }
    ctx.stroke();
    ctx.fillStyle = '#8f8f8f';
    ctx.font = 'italic bold 28px ' + FONT;
    ctx.textBaseline = 'alphabetic';
    ctx.fillText('Fidelity', 917, 598);
    ctx.font = '5.5px ' + FONT;
    ctx.letterSpacing = '2.2px';
    ctx.fillText('INVESTMENTS', 958, 606);
    ctx.restore();
  }
};

new Chart(document.getElementById('insiderChart'), {
  type: 'line',
  data: {
    datasets: [
      {
        label: "Vicker's Insider sell/buy",
        data: toPoints(vickersDates, vickersSmooth),
        borderColor: '#000',
        borderWidth: 1.8,
        xAxisID: 'x',
        yAxisID: 'y2',
        order: 0
      },
      {
        label: "Vicker's Insider sell/buy (weekly)",
        data: toPoints(vickersRawDates, vickersRaw),
        borderColor: '#c4c4c4',
        borderWidth: 1,
        xAxisID: 'x',
        yAxisID: 'y2',
        order: 1
      },
      {
        label: 'LTM P/E drawdown',
        data: toPoints(peDates, peDrawdown),
        borderColor: ORANGE,
        borderWidth: 1.5,
        xAxisID: 'x',
        yAxisID: 'y',
        order: 2
      },
      {
        label: 'SPX drawdown from 12m high',
        data: toPoints(spxDates, spxDrawdown),
        borderColor: AREA_GREY,
        backgroundColor: AREA_GREY,
        borderWidth: 0.8,
        fill: { value: 0 },
        xAxisID: 'x',
        yAxisID: 'y',
        order: 3
      }
    ]
  },
  options: {
    responsive: false,
    animation: false,
    devicePixelRatio: 1,
    elements: { point: { radius: 0 }, line: { tension: 0 } },
    layout: { padding: 0 },
    plugins: {
      legend: { display: false },
      tooltip: { enabled: false },
      title: {
        display: true,
        text: 'Insider Buying/Selling',
        color: '#7f7f7f',
        font: { size: 22, weight: 'bold' },
        padding: { top: 14, bottom: 0 }
      },
      subtitle: {
        display: true,
        text: 'Source: FMRCo, Haver Analytics. Weekly Data.',
        color: '#7f7f7f',
        font: { size: 13 },
        padding: { top: 0, bottom: 7 }
      }
    },
    scales: {
      x: { type: 'linear', min: 2000.845, max: 2026.815, bounds: 'data', display: false },
      xl: {
        type: 'linear',
        position: 'bottom',
        min: 2000,
        max: 2026,
        bounds: 'data',
        afterBuildTicks: s => { s.ticks = yearLabels.map(v => ({ value: v })); },
        afterFit: s => { s.height = 68; },
        grid: { display: false, drawTicks: false },
        border: { display: false },
        ticks: { autoSkip: false, maxRotation: 0, padding: 8, color: GREY_TEXT, font: { size: 13 }, callback: v => String(v) }
      },
      y: {
        type: 'linear',
        position: 'left',
        min: -99.4,
        max: 0,
        bounds: 'data',
        afterBuildTicks: s => { s.ticks = leftTicks.map(v => ({ value: v })); },
        afterFit: s => { s.width = 70; },
        grid: { display: false, drawTicks: true, tickLength: 5 },
        border: { display: false },
        ticks: { padding: 7, color: GREY_TEXT, font: { size: 13 }, callback: v => v + '%' }
      },
      y2: {
        type: 'logarithmic',
        position: 'right',
        min: 0.1,
        max: 2146,
        bounds: 'data',
        afterBuildTicks: s => { s.ticks = rightTicks.map(v => ({ value: v })); },
        afterFit: s => { s.width = 66; },
        grid: { display: false, drawTicks: true, tickLength: 5 },
        border: { display: false },
        ticks: { padding: 5, color: GREY_TEXT, font: { size: 13 }, callback: v => String(v) }
      }
    }
  },
  plugins: [decorations]
});
</script>
</body>
</html>
